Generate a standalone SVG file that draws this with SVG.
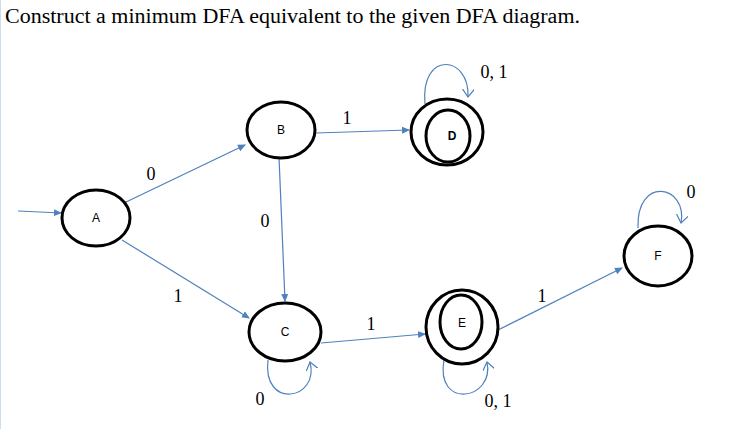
<svg xmlns="http://www.w3.org/2000/svg" width="744" height="429" viewBox="0 0 744 429">
<defs>
<marker id="ah" markerWidth="8" markerHeight="8" refX="7" refY="4" orient="auto" markerUnits="userSpaceOnUse"><path d="M0,0.5 L8,4 L0,7.5 Z" fill="#4f81bd"/></marker>
<marker id="oh" markerWidth="10" markerHeight="12" refX="8" refY="6" orient="auto" markerUnits="userSpaceOnUse"><path d="M0,0 L8,6 L0,12" fill="none" stroke="#4f81bd" stroke-width="1.2"/></marker>
</defs>
<style>
.n{fill:#fff;stroke:#000;stroke-width:3}
.t{font-family:"Liberation Sans",sans-serif;font-size:12px;text-anchor:middle}
.l{font-family:"Liberation Serif",serif;font-size:18px;text-anchor:middle}
.e{stroke:#4f81bd;stroke-width:1.2;fill:none;marker-end:url(#ah)}
.s{stroke:#4f81bd;stroke-width:1.2;fill:none;marker-end:url(#oh)}
</style>
<rect width="744" height="429" fill="#fff"/>
<line x1="0.5" y1="0" x2="0.5" y2="429" stroke="#cde"/>
<text x="5" y="23" font-family="Liberation Serif,serif" font-size="20.5" textLength="575" lengthAdjust="spacingAndGlyphs">Construct a minimum DFA equivalent to the given DFA diagram.</text>
<g id="connectors">
<line class="e" x1="18" y1="211" x2="61" y2="213"/>
<line class="e" x1="124" y1="203" x2="245" y2="145"/>
<line class="e" x1="122" y1="240" x2="249" y2="318"/>
<line class="e" x1="279" y1="157" x2="285" y2="301"/>
<line class="e" x1="316" y1="133" x2="409" y2="130"/>
<line class="e" x1="321" y1="343" x2="425" y2="334"/>
<line class="e" x1="498" y1="330" x2="622" y2="268"/>
<path class="s" d="M425,104 C420,50 470,55 468,97"/>
<path class="s" d="M638,228 C636,175 688,185 681,223"/>
<path class="s" d="M268,360 C262,410 320,400 310,362"/>
<path class="s" d="M444,360 C435,410 495,400 487,362"/>
<text class="l" x="151" y="180">0</text>
<text class="l" x="178" y="302">1</text>
<text class="l" x="265" y="227">0</text>
<text class="l" x="347" y="124">1</text>
<text class="l" x="371" y="330">1</text>
<text class="l" x="542" y="302">1</text>
<text class="l" x="494" y="78">0, 1</text>
<text class="l" x="691" y="198">0</text>
<text class="l" x="260" y="405">0</text>
<text class="l" x="498" y="407">0, 1</text>
</g>
<g id="A"><ellipse class="n" cx="96" cy="218" rx="34" ry="28"/><text class="t" x="96" y="222">A</text></g>
<g id="B"><ellipse class="n" cx="281" cy="130" rx="34" ry="28"/><text class="t" x="281" y="134">B</text></g>
<g id="C"><ellipse class="n" cx="285" cy="332" rx="36" ry="29"/><text class="t" x="285" y="336">C</text></g>
<g id="D"><ellipse class="n" cx="447" cy="132" rx="36" ry="33"/><ellipse class="n" cx="448" cy="136" rx="22" ry="26"/><text class="t" x="452" y="140" font-size="12" font-weight="bold">D</text></g>
<g id="E"><ellipse class="n" cx="462" cy="327" rx="36" ry="37"/><ellipse class="n" cx="461" cy="322" rx="21" ry="27"/><text class="t" x="462" y="327" font-size="12">E</text></g>
<g id="F"><ellipse class="n" cx="658" cy="256" rx="34" ry="30"/><text class="t" x="658" y="260">F</text></g>
</svg>
